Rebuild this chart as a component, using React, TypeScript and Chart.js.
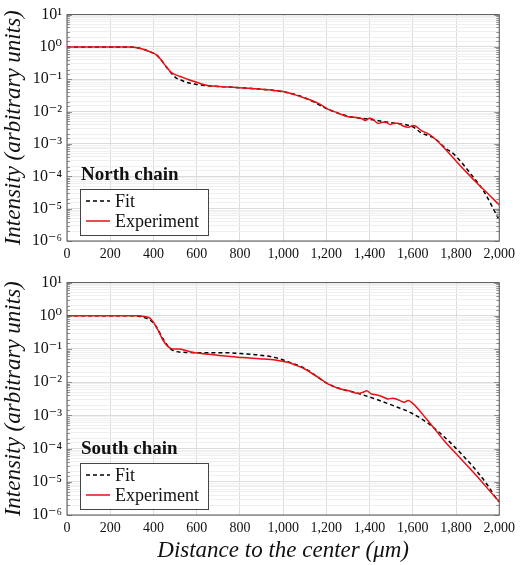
import React, { useEffect, useRef } from "react";
import { Chart, registerables } from "chart.js";

Chart.register(...registerables);

// ---------- data ----------
const xTickValues = [0, 200, 400, 600, 800, 1000, 1200, 1400, 1600, 1800, 2000];
const yDecadeExponents = [-6, -5, -4, -3, -2, -1, 0, 1];

const northFitX = [0, 100, 200, 290, 330, 360, 390, 412, 430, 443, 460, 481, 504, 530, 550, 596, 650, 700, 800, 900, 1000, 1100, 1200, 1300, 1400, 1500, 1600, 1639, 1700, 1750, 1792, 1869, 1930, 2000];
const northFitY = [1, 1, 1, 1, 0.93, 0.82, 0.68, 0.58, 0.44, 0.34, 0.24, 0.16, 0.111, 0.093, 0.082, 0.07, 0.063, 0.06, 0.055, 0.049, 0.041, 0.027, 0.0125, 0.0072, 0.0058, 0.0045, 0.0034, 0.0022, 0.0015, 0.00075, 0.00047, 0.000117, 0.000033, 0.0000044];

const northExpX = [0, 100, 200, 290, 330, 360, 390, 412, 430, 443, 460, 481, 500, 520, 550, 581, 620, 657, 700, 750, 811, 870, 920, 972, 1000, 1056, 1100, 1132, 1170, 1209, 1250, 1301, 1340, 1365, 1380, 1400, 1415, 1440, 1460, 1478, 1495, 1515, 1532, 1555, 1580, 1600, 1612, 1640, 1670, 1700, 1746, 1808, 1850, 1900, 1950, 2000];
const northExpY = [1, 1, 1, 1, 0.93, 0.82, 0.68, 0.58, 0.44, 0.34, 0.24, 0.164, 0.14, 0.124, 0.105, 0.088, 0.073, 0.063, 0.06, 0.058, 0.054, 0.051, 0.048, 0.044, 0.042, 0.033, 0.026, 0.022, 0.017, 0.0117, 0.0093, 0.0069, 0.0066, 0.006, 0.0053, 0.0062, 0.0058, 0.0043, 0.0047, 0.0046, 0.004, 0.0044, 0.0044, 0.0036, 0.0033, 0.0037, 0.0036, 0.0026, 0.0021, 0.0015, 0.00074, 0.00026, 0.00013, 0.000059, 0.000028, 0.000013];

const southFitX = [0, 100, 200, 300, 340, 366, 390, 412, 443, 474, 497, 550, 650, 734, 820, 888, 964, 1025, 1100, 1200, 1250, 1347, 1440, 1516, 1593, 1670, 1746, 1823, 1900, 1946, 1992, 2000];
const southFitY = [1, 1, 1, 1, 0.96, 0.85, 0.7, 0.48, 0.21, 0.107, 0.087, 0.079, 0.077, 0.077, 0.072, 0.066, 0.055, 0.041, 0.026, 0.0095, 0.0068, 0.0046, 0.0029, 0.0019, 0.00118, 0.00058, 0.000224, 0.000071, 0.0000195, 0.0000079, 0.0000028, 0.0000025];

const southExpX = [0, 100, 200, 320, 366, 380, 397, 420, 443, 466, 489, 520, 550, 581, 657, 730, 811, 890, 964, 1025, 1056, 1100, 1132, 1170, 1209, 1255, 1300, 1347, 1370, 1386, 1409, 1430, 1448, 1470, 1486, 1505, 1524, 1545, 1560, 1578, 1593, 1670, 1746, 1823, 1900, 1992, 2000];
const southExpY = [1, 1, 1, 1, 0.93, 0.88, 0.68, 0.38, 0.19, 0.12, 0.1, 0.1, 0.09, 0.08, 0.069, 0.062, 0.055, 0.051, 0.047, 0.039, 0.033, 0.025, 0.0186, 0.013, 0.0087, 0.0066, 0.0056, 0.0046, 0.005, 0.0055, 0.0044, 0.0042, 0.0039, 0.0034, 0.0031, 0.0033, 0.0031, 0.0027, 0.0025, 0.0028, 0.0025, 0.00069, 0.00017, 0.000049, 0.000014, 0.0000029, 0.0000026];

const seriesLabels = ["Fit", "Experiment"];
const panelTitles = ["North chain", "South chain"];
const xAxisTitle = "Distance to the center (\u03BCm)";
const yAxisTitle = "Intensity (arbitrary units)";

// ---------- helpers ----------
const SUP: Record<string, string> = {
  "-": "\u207B", "0": "\u2070", "1": "\u00B9", "2": "\u00B2", "3": "\u00B3",
  "4": "\u2074", "5": "\u2075", "6": "\u2076", "7": "\u2077", "8": "\u2078", "9": "\u2079",
};
const sup = (n: number) => String(n).split("").map((c) => SUP[c] || c).join("");
const isDecade = (v: number) => {
  const l = Math.log10(v);
  return Math.abs(l - Math.round(l)) < 1e-6;
};
const zip = (xs: number[], ys: number[]) => xs.map((x, i) => ({ x, y: ys[i] }));

const FONT = "'Liberation Serif', 'DejaVu Serif', serif";
const RED = "rgb(232,16,20)";

const decoPlugin = {
  id: "panelDeco",
  afterDatasetsDraw(chart: any, _args: any, opts: any) {
    const { ctx, chartArea } = chart;
    const { left, right, top, bottom } = chartArea;
    ctx.save();
    // inner tick marks on left/right edges
    ctx.strokeStyle = "#777";
    ctx.lineWidth = 0.8;
    const ys = chart.scales.y;
    ys.ticks.forEach((t: any) => {
      const py = Math.round(ys.getPixelForValue(t.value)) + 0.5;
      const len = isDecade(t.value) ? 5 : 3;
      ctx.beginPath();
      ctx.moveTo(left, py);
      ctx.lineTo(left + len, py);
      ctx.moveTo(right, py);
      ctx.lineTo(right - len, py);
      ctx.stroke();
    });
    // frame
    ctx.strokeStyle = "#555";
    ctx.lineWidth = 1;
    ctx.strokeRect(left, top, right - left, bottom - top);
    // title
    ctx.fillStyle = "#111";
    ctx.font = `bold 19px ${FONT}`;
    ctx.textBaseline = "middle";
    ctx.textAlign = "left";
    ctx.fillText(opts.title, left + 14, bottom - 66);
    // legend box
    const bx = left + 13, by = bottom - 52, bw = 128, bh = 46;
    ctx.fillStyle = "#fff";
    ctx.fillRect(bx, by, bw, bh);
    ctx.strokeStyle = "#444";
    ctx.strokeRect(bx + 0.5, by + 0.5, bw, bh);
    chart.data.datasets.forEach((ds: any, i: number) => {
      const y = by + 12 + i * 20;
      ctx.beginPath();
      ctx.setLineDash(ds.borderDash || []);
      ctx.strokeStyle = ds.borderColor;
      ctx.lineWidth = ds.borderWidth;
      ctx.moveTo(bx + 6, y);
      ctx.lineTo(bx + 30, y);
      ctx.stroke();
      ctx.setLineDash([]);
      ctx.fillStyle = "#111";
      ctx.font = `18px ${FONT}`;
      ctx.fillText(ds.label, bx + 35, y + 1);
    });
    ctx.restore();
  },
};

function Panel({ fitX, fitY, expX, expY, title, showXTitle, height, top, areaTop, xAxisHeight }: any) {
  const ref = useRef<HTMLCanvasElement | null>(null);
  useEffect(() => {
    if (!ref.current) return;
    const chart = new Chart(ref.current, {
      type: "line",
      data: {
        datasets: [
          {
            label: seriesLabels[0],
            data: zip(fitX, fitY),
            borderColor: "#000",
            borderWidth: 1.5,
            borderDash: [4, 3],
            pointRadius: 0,
            cubicInterpolationMode: "monotone",
            order: 1,
          },
          {
            label: seriesLabels[1],
            data: zip(expX, expY),
            borderColor: RED,
            borderWidth: 1.5,
            pointRadius: 0,
            cubicInterpolationMode: "monotone",
            order: 0,
          },
        ],
      },
      plugins: [decoPlugin],
      options: {
        animation: false,
        responsive: false,
        maintainAspectRatio: false,
        layout: { padding: { top: areaTop, right: 18, left: 0, bottom: 0 } },
        plugins: {
          legend: { display: false },
          tooltip: { enabled: false },
          panelDeco: { title },
        } as any,
        scales: {
          x: {
            type: "linear",
            min: 0,
            max: 2000,
            afterBuildTicks: (scale: any) => {
              scale.ticks = xTickValues.map((v) => ({ value: v }));
            },
            afterFit: (scale: any) => {
              scale.height = xAxisHeight;
            },
            ticks: {
              autoSkip: false,
              maxRotation: 0,
              padding: 5,
              color: "#111",
              font: { family: FONT, size: 14 },
              callback: (v: any) => Number(v).toLocaleString("en-US"),
            },
            grid: { color: "#dcdcdc", drawTicks: false, lineWidth: 1 },
            border: { display: false },
            title: {
              display: showXTitle,
              text: xAxisTitle,
              color: "#111",
              font: { family: FONT, size: 23, style: "italic" },
              padding: { top: 0, bottom: 0 },
            },
          },
          y: {
            type: "logarithmic",
            min: 1e-6,
            max: 10,
            afterFit: (scale: any) => {
              scale.width = 67;
            },
            ticks: {
              autoSkip: false,
              padding: 5,
              color: "#111",
              font: { family: FONT, size: 16 },
              callback: (v: any) => {
                const n = Number(v);
                if (!isDecade(n)) return "";
                const e = Math.round(Math.log10(n));
                return yDecadeExponents.includes(e) ? "10" + sup(e) : "";
              },
            },
            grid: {
              drawTicks: false,
              lineWidth: 1,
              color: (c: any) => (c.tick && isDecade(c.tick.value) ? "#dcdcdc" : "#efefef"),
            },
            border: { display: false },
            title: {
              display: true,
              text: yAxisTitle,
              color: "#111",
              font: { family: FONT, size: 23, style: "italic" },
              padding: { top: 0, bottom: 0 },
            },
          },
        },
      } as any,
    });
    return () => chart.destroy();
  }, []);
  return (
    <div style={{ position: "absolute", left: 0, top, width: 520, height }}>
      <canvas ref={ref} width={520} height={height} style={{ width: 520, height }} />
    </div>
  );
}

export default function App() {
  return (
    <div style={{ position: "absolute", left: 0, top: 0, width: 520, height: 565, background: "#fff" }}>
      <Panel fitX={northFitX} fitY={northFitY} expX={northExpX} expY={northExpY} title={panelTitles[0]}
        showXTitle={false} height={268} top={0} areaTop={7} xAxisHeight={27} />
      <Panel fitX={southFitX} fitY={southFitY} expX={southExpX} expY={southExpY} title={panelTitles[1]}
        showXTitle={true} height={297} top={268} areaTop={13} xAxisHeight={50} />
    </div>
  );
}
